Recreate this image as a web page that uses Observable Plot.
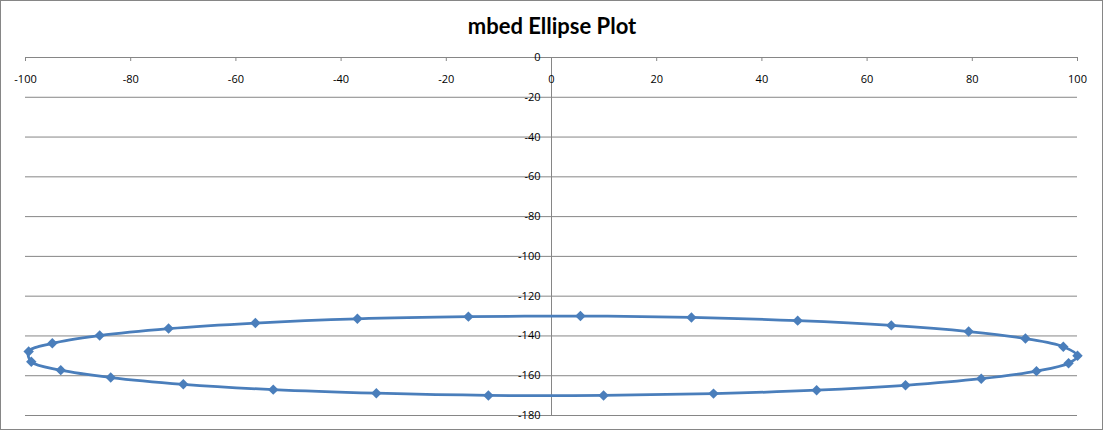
<!DOCTYPE html>
<html><head><meta charset="utf-8">
<script src="https://cdn.jsdelivr.net/npm/d3@7"></script>
<script src="https://cdn.jsdelivr.net/npm/@observablehq/plot@0.6"></script>
<style>
body{margin:0;background:#fff;}
#chart{position:relative;width:1104px;height:432px;overflow:hidden;}
#frame{position:absolute;left:0;top:0;width:1101px;height:428px;border:1px solid #868686;pointer-events:none;}
#title{position:absolute;left:0;width:1104px;top:12px;text-align:center;font:bold 22px Lato, sans-serif;color:#000;}
#plot{position:absolute;left:0;top:0;}
</style></head>
<body>
<div id="chart"><div id="plot"></div><div id="frame"></div><div id="title">mbed Ellipse Plot</div></div>
<script>
// Ellipse points (order: start at right, upper half right-to-left, lower half left-to-right)
const xValues = [100, 97.3, 90.1, 79.3, 64.6, 46.8, 26.6, 5.5, -15.8, -36.9, -56.3, -72.8, -85.9, -94.9, -99.4,
                 -98.9, -93.3, -83.8, -70.0, -52.9, -33.3, -12.0, 9.9, 30.8, 50.4, 67.3, 81.7, 92.2, 98.3];
const yValues = [-150, -145.4, -141.3, -137.8, -134.7, -132.3, -130.7, -130.0, -130.3, -131.4, -133.5, -136.3, -139.8, -143.7, -147.8,
                 -153.0, -157.2, -160.9, -164.3, -167.0, -168.8, -169.9, -169.9, -169.0, -167.3, -164.8, -161.5, -157.7, -153.7];
const xTicks = [-100, -80, -60, -40, -20, 0, 20, 40, 60, 80, 100];
const yTicks = [0, -20, -40, -60, -80, -100, -120, -140, -160, -180];
const axisCross = 0;

const points = xValues.map((x, i) => ({x, y: yValues[i]}));
const blue = "#4A7EBB";
const gridColor = "#868686";
const labelFont = "Open Sans, sans-serif";

const chart = Plot.plot({
  width: 1104,
  height: 432,
  marginTop: 57,
  marginBottom: 17,
  marginLeft: 25,
  marginRight: 27,
  style: {background: "transparent", overflow: "visible"},
  x: {domain: [-100, 100], axis: null},
  y: {domain: [-180, 0], axis: null},
  marks: [
    Plot.ruleY(yTicks, {y: d => d, stroke: gridColor, strokeWidth: 1}),
    Plot.ruleX([axisCross], {stroke: gridColor, strokeWidth: 1}),
    Plot.ruleX(xTicks, {x: d => d, y1: axisCross, y2: axisCross, insetBottom: -4, stroke: gridColor, strokeWidth: 1}),
    Plot.text(xTicks, {x: d => d, y: axisCross, dy: 22, text: d => String(d), fontSize: 11, fontFamily: labelFont, fill: "#000"}),
    Plot.text(yTicks, {x: axisCross, y: d => d, dx: -11, textAnchor: "end", text: d => String(d), fontSize: 11, fontFamily: labelFont, fill: "#000"}),
    Plot.line(points, {x: "x", y: "y", curve: "catmull-rom-closed", stroke: blue, strokeWidth: 2.75}),
    Plot.dot(points, {x: "x", y: "y", symbol: "diamond2", r: 4.7, fill: blue, stroke: "none"})
  ]
});
document.getElementById("plot").appendChild(chart);
</script>
</body></html>
